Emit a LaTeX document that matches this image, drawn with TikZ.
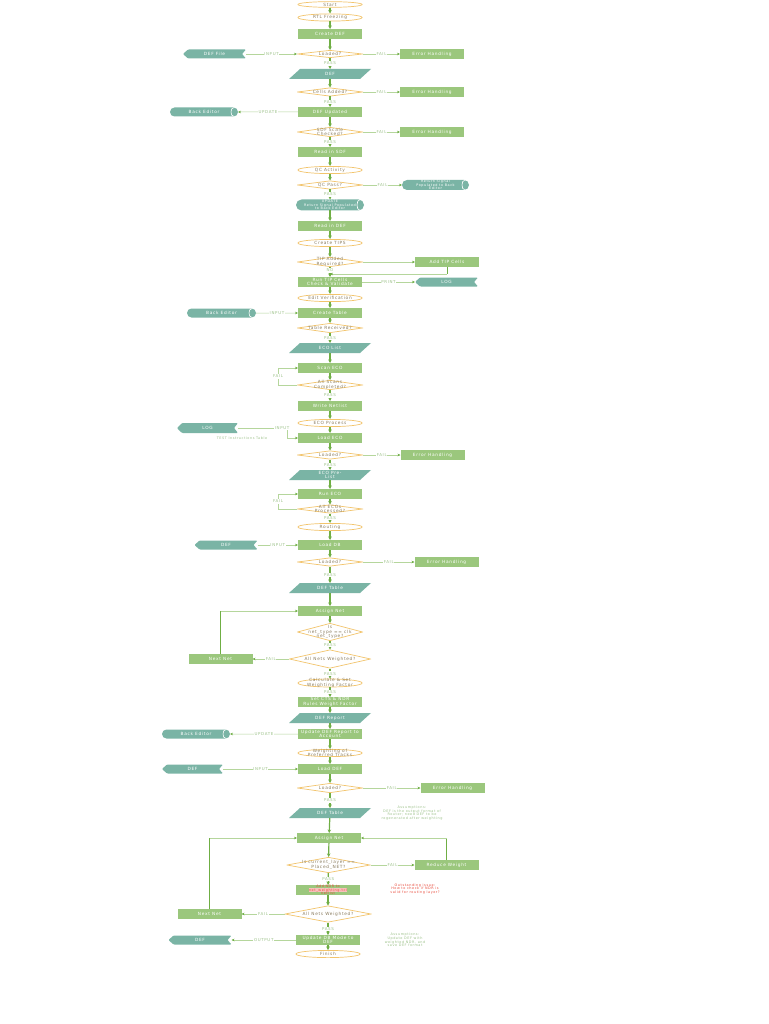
\documentclass[tikz,border=0pt]{standalone}
\usepackage{fontspec}
\setmainfont{DejaVu Sans}
\newfontfamily\nodefont[LetterSpace=16]{DejaVu Sans}
\usetikzlibrary{shapes.misc,arrows.meta,calc}
\definecolor{boxg}{HTML}{9BC77D}
\definecolor{tealc}{HTML}{7AB4A5}
\definecolor{orng}{HTML}{F2C46C}
\definecolor{txtd}{HTML}{8A7C5E}
\definecolor{arrg}{HTML}{6FAE44}
\definecolor{arrl}{HTML}{B5D69C}
\definecolor{labc}{HTML}{9DC28A}
\definecolor{redt}{HTML}{E94B3C}
\newcommand\myNF{\nodefont\fontsize{4.3}{4.6}\selectfont}
\newcommand\mySF{\nodefont\fontsize{3.4}{3.6}\selectfont}
\newcommand\myLF{\nodefont\fontsize{4}{4.2}\selectfont}
\newcommand\hlred[1]{{\setlength{\fboxsep}{0.2pt}\colorbox{redt!35}{#1}}}
\begin{document}
\begin{tikzpicture}[x=1pt,y=-1pt,
  base/.style={rectangle, inner sep=0pt, outer sep=0pt, align=center, font=\myNF},
  proc/.style={base, fill=boxg, text=white, minimum width=64pt, minimum height=10pt},
  term/.style={base, text=txtd, minimum width=65pt, minimum height=8pt,
    path picture={\path[draw=orng, fill=white, line width=0.7pt] let \p1=(path picture bounding box.north east), \p2=(path picture bounding box.south west) in (path picture bounding box.center) ellipse [x radius={(\x1-\x2)/2-0.4pt}, y radius={(\y1-\y2)/2-0.4pt}];}},
  dec/.style={base, text=txtd, minimum width=66pt, minimum height=9pt,
    path picture={\path[draw=orng, fill=white, line width=0.7pt] ([yshift=-0.4pt]path picture bounding box.north) -- ([xshift=-0.5pt]path picture bounding box.east) -- ([yshift=0.4pt]path picture bounding box.south) -- ([xshift=0.5pt]path picture bounding box.west) -- cycle;}},
  para/.style={base, text=white, minimum width=82pt, minimum height=10pt,
    path picture={\fill[tealc] (path picture bounding box.south west) -- ([xshift=-11pt]path picture bounding box.south east) -- (path picture bounding box.north east) -- ([xshift=11pt]path picture bounding box.north west) -- cycle;}},
  tag/.style={base, text=white, minimum width=63pt, minimum height=9pt,
    path picture={\fill[tealc, rounded corners=1pt] (path picture bounding box.west) -- ([xshift=5pt]path picture bounding box.north west) -- (path picture bounding box.north east) -- ([xshift=-4pt]path picture bounding box.east) -- (path picture bounding box.south east) -- ([xshift=5pt]path picture bounding box.south west) -- cycle;}},
  stor/.style={rounded rectangle, inner sep=0pt, outer sep=0pt, align=center, font=\myNF, fill=tealc, text=white, minimum width=68pt, minimum height=9pt,
    path picture={\draw[white, line width=0.6pt] ([xshift=-4pt]path picture bounding box.north east) .. controls ([xshift=-8pt]path picture bounding box.north east) and ([xshift=-8pt]path picture bounding box.south east) .. ([xshift=-4pt]path picture bounding box.south east);}},
  small/.style={font=\mySF},
  lab/.style={font=\myLF, text=labc, fill=white, inner sep=0.6pt},
  note/.style={font=\mySF, text=labc, align=center, inner sep=0pt},
  ml/.style={draw=arrg, line width=1.2pt, -{Stealth[length=3.5pt,width=3.5pt]}},
  sl/.style={draw=arrl, line width=0.5pt, -{Stealth[length=3pt,width=2.6pt,color=arrg]}},
  vl/.style={draw=arrg, line width=0.7pt}
]
\useasboundingbox (0,0) rectangle (768,1024);
\fill[white] (0,0) rectangle (768,1024);

% ---------- nodes ----------
\node[term, minimum height=6.5pt] (start) at (330,4.5) {Start};
\node[term] (rtl) at (330,17.5) {RTL Freezing};
\node[proc] (cdef) at (330,34) {Create DEF};
\node[dec, minimum height=8pt] (ld1) at (330,54) {Loaded?};
\node[tag] (deff) at (214.5,54) {DEF File};
\node[proc] (err1) at (432,54) {Error Handling};
\node[para] (def1) at (330,74) {DEF};
\node[dec] (cells) at (330,92) {Cells Added?};
\node[proc] (err2) at (432,92) {Error Handling};
\node[proc] (defu) at (330,112) {DEF Updated};
\node[stor] (be1) at (204,112) {Back Editor};
\node[dec, minimum height=10pt] (sdfc) at (330,132) {SDF Scale\\Checked?};
\node[proc] (err3) at (432,132) {Error Handling};
\node[proc] (rsdf) at (330,152) {Read in SDF};
\node[term] (qca) at (330,170) {QC Activity};
\node[dec] (qcp) at (330,185) {QC Pass?};
\node[stor, small, minimum width=67pt, minimum height=10pt] (rets) at (435.5,185) {Return Signal\\Populated to Back\\Editor};
\node[stor, small, minimum height=11pt] (upd) at (330,205) {UPDATE\\Return Signal Populated\\to Back Editor};
\node[proc] (rdef) at (330,226) {Read in DEF};
\node[term] (ctip) at (330,243) {Create TIPS};
\node[dec, minimum height=10pt] (tipr) at (330,262) {TIP Added\\Required?};
\node[proc] (atip) at (447,262) {Add TIP Cells};
\node[proc] (rtip) at (330,282) {Run TIP Cells\\Check \& Validate};
\node[tag] (log1) at (446.5,282) {LOG};
\node[term] (ever) at (330,298) {Edit Verification};
\node[proc] (ctab) at (330,313) {Create Table};
\node[stor, minimum width=69pt] (be2) at (221.5,313) {Back Editor};
\node[dec, minimum height=10pt] (trec) at (330,328) {Table Received?};
\node[para] (ecol) at (330,348) {ECO List};
\node[proc] (seco) at (330,368) {Scan ECO};
\node[dec, minimum height=10pt] (alls) at (330,385) {All Scans\\Completed?};
\node[proc] (wnet) at (330,406) {Write Netlist};
\node[term] (ecop) at (330,423) {ECO Process};
\node[tag, minimum width=61pt, minimum height=10pt] (log2) at (207.5,428) {LOG};
\node[note] (n0) at (242,438) {TEST Instructions Table};
\node[proc] (leco) at (330,438) {Load ECO};
\node[dec] (ld2) at (330,455) {Loaded?};
\node[proc] (err4) at (432.5,455) {Error Handling};
\node[para] (ecopl) at (330,475) {ECO Pre-\\List};
\node[proc] (reco) at (330,494) {Run ECO};
\node[dec] (alle) at (330,509) {All ECOs\\Processed?};
\node[term] (rout) at (330,527) {Routing};
\node[proc] (ldb) at (330,545) {Load DB};
\node[tag] (def3) at (226,545) {DEF};
\node[dec] (ld3) at (330,562) {Loaded?};
\node[proc] (err5) at (446.5,562) {Error Handling};
\node[para] (dtab1) at (330,588) {DEF Table};
\node[proc] (asg1) at (330,611) {Assign Net};
\node[dec, minimum height=18pt] (isn) at (330,632) {Is\\net\_type == clk\\net\_type?};
\node[dec, minimum width=82pt, minimum height=19pt] (aw1) at (330,659) {All Nets Weighted?};
\node[proc] (nn1) at (220.5,659) {Next Net};
\node[term] (calc) at (330,683) {Calculate \& Set\\Weighting Factor};
\node[proc] (scts) at (330,702) {Set CTS \& NDR\\Rules Weight Factor};
\node[para] (drep) at (330,718) {DEF Report};
\node[proc] (urep) at (330,734) {Update DEF Report to\\Account};
\node[stor] (be3) at (196,734) {Back Editor};
\node[term] (wpt) at (330,753) {Weighting of\\Preferred Tracks};
\node[proc] (ldef) at (330,769) {Load DEF};
\node[tag, minimum width=61pt] (def4) at (192.5,769) {DEF};
\node[dec, minimum height=10pt] (ld4) at (330,788) {Loaded?};
\node[proc] (err6) at (452.5,788) {Error Handling};
\node[para] (dtab2) at (330,813) {DEF Table};
\node[note] (n1) at (412,813) {Assumptions:\\DEF is the output format of\\Router; need DEF to be\\regenerated after weighting};
\node[proc] (asg2) at (329,838) {Assign Net};
\node[dec, minimum width=84pt, minimum height=16pt] (isc) at (328.5,865) {Is current\_layer ==\\Placed\_NET?};
\node[proc] (red) at (446.5,865) {Reduce Weight};
\node[proc, small, text=redt] (andr) at (328,890) {Add NDR to\\\hlred{net\_weighting.tcl}\\netlist};
\node[note, text=redt] (n2) at (415,889) {Outstanding issue:\\How to check if NDR is\\valid for routing layer?};
\node[dec, minimum width=87pt, minimum height=17pt] (aw2) at (328,914) {All Nets Weighted?};
\node[proc] (nn2) at (209.5,914) {Next Net};
\node[proc] (umode) at (328,940) {Update DB Mode to\\DEF};
\node[tag] (def5) at (200,940) {DEF};
\node[note] (n3) at (405,940) {Assumptions:\\Update DEF with\\weighted NDR, and\\save DEF format};
\node[term] (fin) at (328,954) {Finish};

% ---------- main flow ----------
\draw[ml] (start) -- (rtl);
\draw[ml] (rtl) -- (cdef);
\draw[ml] (cdef) -- (ld1);
\draw[ml] (ld1) -- node[lab]{PASS} (def1);
\draw[ml] (def1) -- (cells);
\draw[ml] (cells) -- node[lab]{PASS} (defu);
\draw[ml] (defu) -- (sdfc);
\draw[ml] (sdfc) -- node[lab]{PASS} (rsdf);
\draw[ml] (rsdf) -- (qca);
\draw[ml] (qca) -- (qcp);
\draw[ml] (qcp) -- node[lab]{PASS} (upd);
\draw[ml] (upd) -- (rdef);
\draw[ml] (rdef) -- (ctip);
\draw[ml] (ctip) -- (tipr);
\draw[ml] (tipr) -- node[lab,pos=0.35]{NO} (rtip);
\draw[ml] (rtip) -- (ever);
\draw[ml] (ever) -- (ctab);
\draw[ml] (ctab) -- (trec);
\draw[ml] (trec) -- node[lab]{PASS} (ecol);
\draw[ml] (ecol) -- (seco);
\draw[ml] (seco) -- (alls);
\draw[ml] (alls) -- node[lab]{PASS} (wnet);
\draw[ml] (wnet) -- (ecop);
\draw[ml] (ecop) -- (leco);
\draw[ml] (leco) -- (ld2);
\draw[ml] (ld2) -- node[lab]{PASS} (ecopl);
\draw[ml] (ecopl) -- (reco);
\draw[ml] (reco) -- (alle);
\draw[ml] (alle) -- node[lab]{PASS} (rout);
\draw[ml] (rout) -- (ldb);
\draw[ml] (ldb) -- (ld3);
\draw[ml] (ld3) -- node[lab]{PASS} (dtab1);
\draw[ml] (dtab1) -- (asg1);
\draw[ml] (asg1) -- (isn);
\draw[ml] (isn) -- node[lab]{PASS} (aw1);
\draw[ml] (aw1) -- node[lab]{PASS} (calc);
\draw[ml] (calc) -- node[lab]{PASS} (scts);
\draw[ml] (scts) -- (drep);
\draw[ml] (drep) -- (urep);
\draw[ml] (urep) -- (wpt);
\draw[ml] (wpt) -- (ldef);
\draw[ml] (ldef) -- (ld4);
\draw[ml] (ld4) -- node[lab]{PASS} (dtab2);
\draw[ml] (dtab2) -- (asg2);
\draw[ml] (asg2) -- (isc);
\draw[ml] (isc) -- node[lab]{PASS} (andr);
\draw[ml] (andr) -- (aw2);
\draw[ml] (aw2) -- node[lab]{PASS} (umode);
\draw[ml] (umode) -- (fin);

% ---------- side connectors ----------
\draw[sl] (deff) -- node[lab]{INPUT} (ld1);
\draw[sl] (ld1) -- node[lab]{FAIL} (err1);
\draw[sl] (cells) -- node[lab]{FAIL} (err2);
\draw[sl] (defu) -- node[lab]{UPDATE} (be1);
\draw[sl] (sdfc) -- node[lab]{FAIL} (err3);
\draw[sl] (qcp) -- node[lab]{FAIL} (rets);
\draw[sl] (tipr) -- (atip);
\coordinate (j1) at (330,274);
\draw[vl] (atip.south) -- (atip.south |- j1);
\draw[sl] (atip.south |- j1) -- (j1);
\draw[sl] (rtip) -- node[lab]{PRINT} (log1);
\draw[sl] (be2) -- node[lab]{INPUT} (ctab);
\draw[sl] (alls.west) -- ++(-19,0) |- node[lab,pos=0.25]{FAIL} (seco.west);
\draw[sl] (log2.east) -- node[lab,pos=0.9]{INPUT} ++(49,0) |- (leco.west);
\draw[sl] (ld2) -- node[lab]{FAIL} (err4);
\draw[sl] (alle.west) -- ++(-19,0) |- node[lab,pos=0.25]{FAIL} (reco.west);
\draw[sl] (def3) -- node[lab]{INPUT} (ldb);
\draw[sl] (ld3) -- node[lab]{FAIL} (err5);
\draw[sl] (aw1) -- node[lab]{FAIL} (nn1);
\draw[vl] (nn1.north) -- (nn1.north |- asg1.west);
\draw[sl] (nn1.north |- asg1.west) -- (asg1.west);
\draw[sl] (urep) -- node[lab]{UPDATE} (be3);
\draw[sl] (def4) -- node[lab]{INPUT} (ldef);
\draw[sl] (ld4) -- node[lab]{FAIL} (err6);
\draw[sl] (isc) -- node[lab]{FAIL} (red);
\draw[vl] (red.north) -- (red.north |- asg2.east);
\draw[sl] (red.north |- asg2.east) -- (asg2.east);
\draw[sl] (aw2) -- node[lab]{FAIL} (nn2);
\draw[vl] (nn2.north) -- (nn2.north |- asg2.west);
\draw[sl] (nn2.north |- asg2.west) -- (asg2.west);
\draw[sl] (umode) -- node[lab]{OUTPUT} (def5);
\end{tikzpicture}
\end{document}
